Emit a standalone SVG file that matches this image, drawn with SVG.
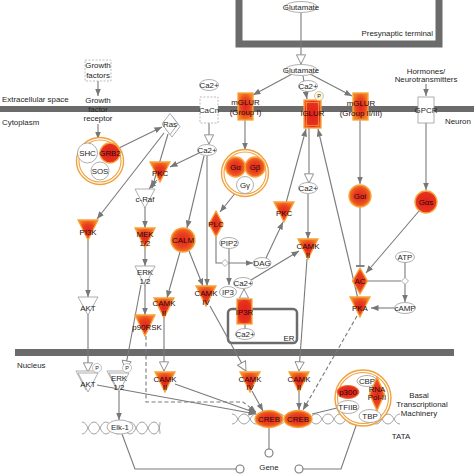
<svg xmlns="http://www.w3.org/2000/svg" width="474" height="474" viewBox="0 0 474 474">
<style>
text{font-family:"Liberation Sans",Arial,sans-serif;font-size:7.9px;fill:#262626;text-anchor:middle}
.l{text-anchor:start}
.e{text-anchor:end}
.k{fill:#2a0a0a}
.c{stroke:#7a7a7a;stroke-width:1.1;fill:none}
.d{stroke-dasharray:4 2.5}
.w{fill:#fff;stroke:#9a9a9a;stroke-width:0.8}
.wd{fill:#fff;stroke:#aaa;stroke-width:0.8;stroke-dasharray:2 1.5}
.o{fill:url(#go);stroke:#f7a33c;stroke-width:1.3}
.r{fill:url(#gr);stroke:#f7a33c;stroke-width:1.3}
.ring{fill:#fff;stroke:#f2a03a;stroke-width:1.4}
.ring2{fill:none;stroke:#f2a03a;stroke-width:1.1}
.bar{fill:#6b6b6b}
.dna{fill:none;stroke:#9a9a9a;stroke-width:0.9}
.sm{font-size:5.5px}
</style>
<defs>
<radialGradient id="go" cx="50%" cy="50%" r="55%"><stop offset="0" stop-color="#e3261c"/><stop offset="0.55" stop-color="#ea421e"/><stop offset="1" stop-color="#f58220"/></radialGradient>
<radialGradient id="gr" cx="50%" cy="50%" r="55%"><stop offset="0" stop-color="#e01f1b"/><stop offset="0.8" stop-color="#e6331d"/><stop offset="1" stop-color="#ef5a20"/></radialGradient>
<marker id="a" viewBox="0 0 10 8" refX="10" refY="4" markerWidth="7.5" markerHeight="6" orient="auto" markerUnits="userSpaceOnUse"><path d="M0,0 L10,4 L0,8 z" fill="#777"/></marker>
<marker id="v" viewBox="-1 -1 12 12" refX="10" refY="5" markerWidth="11" markerHeight="11" orient="auto" markerUnits="userSpaceOnUse"><path d="M0,0 L10,5 L0,10 z" fill="#fff" stroke="#888" stroke-width="1"/></marker>
<marker id="t" viewBox="0 0 2 10" refX="1" refY="5" markerWidth="2" markerHeight="9" orient="auto" markerUnits="userSpaceOnUse"><path d="M1,0 V10" stroke="#777" stroke-width="2"/></marker>
</defs>
<rect width="474" height="474" fill="#fff"/>

<g id="compartments">
<rect x="239" y="-20" width="200" height="64" fill="none" stroke="#6b6b6b" stroke-width="7"/>
<text class="e" x="433" y="35.5">Presynaptic terminal</text>
<rect class="bar" x="0" y="106" width="474" height="6"/>
<text class="l" x="2" y="102">Extracellular space</text>
<text class="l" x="2" y="125">Cytoplasm</text>
<text class="l" x="445" y="123.5">Neuron</text>
<rect class="bar" x="15" y="349" width="439" height="7"/>
<text class="l" x="17" y="368">Nucleus</text>
<rect x="228" y="309" width="69" height="34" rx="4" fill="none" stroke="#6b6b6b" stroke-width="2.5"/>
<text x="289" y="341">ER</text>
</g>

<g id="connectors">
<path class="c" d="M301,13 V64" marker-end="url(#v)"/>
<path class="c" d="M98,81 V96" marker-end="url(#a)"/>
<path class="c" d="M98,124 V139" marker-end="url(#a)"/>
<path class="c" d="M119,148 L162,127" marker-end="url(#a)"/>
<path class="c" d="M168,134 L152,188" marker-end="url(#a)"/>
<path class="c" d="M164,133 L97,219" marker-end="url(#a)"/>
<path class="c" d="M157,180 L149,189" marker-end="url(#a)"/>
<path class="c" d="M199,153 L170,167" marker-end="url(#a)"/>
<path class="c" d="M204,156 L187,228" marker-end="url(#a)"/>
<path class="c" d="M207,156 V286" marker-end="url(#a)"/>
<path class="c" d="M209,123 V144" marker-end="url(#v)"/>
<path class="c" d="M245,120 V150" marker-end="url(#a)"/>
<path class="c" d="M237,191 L220,212" marker-end="url(#a)"/>
<path class="c" d="M216,237 V263 H253" marker-end="url(#a)"/>
<path class="c" d="M229,248 V285" marker-end="url(#a)"/>
<path class="c" d="M266,258 L283,222" marker-end="url(#a)"/>
<path class="c" d="M251,280 L299,251" marker-end="url(#a)"/>
<path class="c" d="M244,299 V289" marker-end="url(#v)"/>
<path class="c" d="M245,324 V329"/>
<path class="c" d="M292,74 L253,95" marker-end="url(#a)"/>
<path class="c" d="M310,74 L352,96" marker-end="url(#a)"/>
<path class="c" d="M303,76 L307,99" marker-end="url(#a)"/>
<path class="c" d="M309,128 V183" marker-end="url(#v)"/>
<path class="c" d="M308,194 V239" marker-end="url(#a)"/>
<path class="c" d="M286,203 L306,129" marker-end="url(#a)"/>
<path class="c" d="M358,299 L318,129" marker-end="url(#a)"/>
<path class="c" d="M360,120 V184" marker-end="url(#a)"/>
<path class="c" d="M360,207 V266" marker-end="url(#t)"/>
<path class="c" d="M426,84 V96" marker-end="url(#a)"/>
<path class="c" d="M426,123 V190" marker-end="url(#a)"/>
<path class="c" d="M419,211 L366,273" marker-end="url(#a)"/>
<path class="c" d="M367,281 H401"/>
<path class="c" d="M405,262 V302" marker-end="url(#a)"/>
<path class="c" d="M395,308 H371" marker-end="url(#a)"/>
<path class="c" d="M88,240 V297" marker-end="url(#a)"/>
<path class="c" d="M145,207 V228" marker-end="url(#a)"/>
<path class="c" d="M145,247 V266" marker-end="url(#a)"/>
<path class="c" d="M145,285 V315" marker-end="url(#a)"/>
<path class="c" d="M141,285 L125,370" marker-end="url(#v)"/>
<path class="c" d="M88,314 V372" marker-end="url(#v)"/>
<path class="c" d="M180,252 L167,298" marker-end="url(#a)"/>
<path class="c" d="M189,251 L203,286" marker-end="url(#a)"/>
<path class="c" d="M164,317 V371" marker-end="url(#v)"/>
<path class="c" d="M210,306 L246,371" marker-end="url(#v)"/>
<path class="c" d="M307,259 L299,371" marker-end="url(#v)"/>
<path class="c d" d="M146,336 V402 H243 L256,412" marker-end="url(#a)"/>
<path class="c" d="M97,385 L256,414" marker-end="url(#a)"/>
<path class="c" d="M175,384 L256,413" marker-end="url(#a)"/>
<path class="c" d="M252,391 L263,411" marker-end="url(#a)"/>
<path class="c" d="M299,391 V410" marker-end="url(#a)"/>
<path class="c d" d="M357,316 L303,410" marker-end="url(#a)"/>
<path class="c" d="M119,391 V420" marker-end="url(#a)"/>
<path class="c" d="M269,428 V449"/>
<path class="c" d="M122,434 L135,469 H236"/>
<path class="c" d="M303,469 H341 L357,423"/>
<path class="c" d="M312,414 L337,408"/>
<path d="M225,259.5 L228.5,263 L225,266.5 L221.5,263 z" class="w"/>
<path d="M405,277.5 L408.5,281 L405,284.5 L401.5,281 z" class="w"/>
<circle cx="269" cy="453" r="4" fill="#fff" stroke="#777" stroke-width="1.1"/>
<circle cx="240" cy="469" r="4" fill="#fff" stroke="#777" stroke-width="1.1"/>
<circle cx="299" cy="469" r="4" fill="#fff" stroke="#777" stroke-width="1.1"/>
</g>

<g id="dna">
<path class="dna" d="M232,414 C238,414 238,424 244,424 S250,414 256,414 S262,424 268,424 S274,414 280,414 S286,424 292,424 S298,414 304,414 S310,424 316,424 S322,414 328,414 S334,424 340,424 S346,414 352,414 S358,424 364,424 S370,414 376,414 S382,424 388,424 S394,414 400,414"/>
<path class="dna" d="M232,424 C238,424 238,414 244,414 S250,424 256,424 S262,414 268,414 S274,424 280,424 S286,414 292,414 S298,424 304,424 S310,414 316,414 S322,424 328,424 S334,414 340,414 S346,424 352,424 S358,414 364,414 S370,424 376,424 S382,414 388,414 S394,424 400,424"/>
<path class="dna" d="M82,422 C88,422 88,434 94,434 S100,422 106,422 S112,434 118,434 S124,422 130,422 S136,434 142,434 S148,422 154,422 S160,434 160,434"/>
<path class="dna" d="M82,434 C88,434 88,422 94,422 S100,434 106,434 S112,422 118,422 S124,434 130,434 S136,422 142,422 S148,434 154,434 S160,422 160,422"/>
</g>

<g id="n-glutamate-pre"><ellipse class="w" cx="301" cy="7" rx="16" ry="5.5"/><text x="301" y="9.7">Glutamate</text></g>
<g id="n-glutamate"><ellipse class="w" cx="301" cy="70" rx="16" ry="5.5"/><text x="301" y="72.7">Glutamate</text></g>
<g id="n-growth-factors"><rect class="wd" x="85" y="60" width="26" height="21"/><text x="98" y="68">Growth</text><text x="98" y="77.5">factors</text></g>
<g id="n-gf-receptor"><text x="98" y="103">Growth</text><text x="98" y="112">factor</text><text x="98" y="121">receptor</text></g>
<g id="n-hormones"><text x="426" y="73.5">Hormones/</text><text x="426" y="82">Neurotransmitters</text></g>
<g id="n-ca-top"><ellipse class="w" cx="209" cy="85" rx="9.5" ry="5.5"/><text x="209" y="87.7">Ca2+</text></g>
<g id="n-cacn"><rect class="wd" x="200" y="97" width="18" height="26"/><text x="209" y="113">CaCn</text></g>
<g id="n-mglur1"><rect class="o" x="238" y="93" width="15" height="27"/><text class="k" x="245.5" y="105">mGLUR</text><text class="k" x="245.5" y="115">(Group I)</text></g>
<g id="n-ca-iglur"><ellipse class="w" cx="308" cy="86" rx="9.5" ry="5.5"/><text x="308" y="88.7">Ca2+</text></g>
<g id="n-iglur"><rect class="r" x="304" y="100" width="17" height="28"/><rect x="306.5" y="102.5" width="12" height="23" fill="none" stroke="#f7b04a" stroke-width="0.6"/><text class="k" x="312.5" y="116">iGLUR</text>
<circle cx="319" cy="96" r="4.5" fill="#fff6dc" stroke="#c8b080" stroke-width="0.7"/><text class="sm" x="319" y="98">P</text></g>
<g id="n-mglur23"><rect class="o" x="353" y="93" width="15" height="27"/><text class="k" x="361" y="106">mGLUR</text><text class="k" x="361" y="116">(Group II/III)</text></g>
<g id="n-gpcr"><rect class="w" x="418" y="97" width="16" height="26"/><text x="426" y="113">GPCR</text></g>

<g id="n-shc-grb2-sos"><circle class="ring" cx="100" cy="161" r="23.5"/><circle class="ring2" cx="100" cy="161" r="21"/>
<circle class="w" cx="87.5" cy="153" r="10"/><circle class="r" cx="110" cy="153" r="10"/><circle class="w" cx="100" cy="171" r="9"/>
<text x="87.5" y="155.7">SHC</text><text class="k" x="110" y="155.7">GRB2</text><text x="100" y="173.7">SOS</text></g>
<g id="n-ras"><path d="M172,116 L180,126.5 L172,137 L164,126.5 z" class="w"/><path d="M170,113.5 L178,124 L170,134.5 L162,124 z" class="w"/><text x="170" y="127">Ras</text></g>
<g id="n-ca-mid"><ellipse class="w" cx="207" cy="150" rx="9.5" ry="5.5"/><text x="207" y="152.7">Ca2+</text></g>
<g id="n-pkc1"><polygon class="o" points="150,162 170,162 160,182"/><text class="k" x="160" y="175.5">PKC</text></g>
<g id="n-craf"><polygon class="w" points="135,189 155,189 145,208"/><text x="145" y="201.5">c-Raf</text></g>
<g id="n-mek"><polygon class="o" points="135,228 155,228 145,248"/><text class="k" x="145" y="236.5">MEK</text><text class="k" x="145" y="245.5">1/2</text></g>
<g id="n-erk-c"><polygon class="w" points="135,266 155,266 145,286"/><text x="145" y="274.5">ERK</text><text x="145" y="283.5">1/2</text></g>
<g id="n-pi3k"><polygon class="o" points="78,220 98,220 88,240"/><text class="k" x="88" y="235">PI3K</text></g>
<g id="n-akt-c"><polygon class="w" points="78,297 98,297 88,315"/><text x="88" y="311">AKT</text></g>
<g id="n-g-complex"><circle class="ring" cx="245" cy="173" r="23.5"/><circle class="ring2" cx="245" cy="173" r="21"/>
<circle class="o" cx="235.5" cy="167" r="10"/><circle class="o" cx="255" cy="167" r="10"/><circle class="w" cx="245" cy="185" r="8.5"/>
<text class="k" x="235.5" y="169.7">Gα</text><text class="k" x="255" y="169.7">Gβ</text><text x="245" y="187.7">Gγ</text></g>
<g id="n-calm"><circle class="o" cx="183" cy="240" r="12"/><text class="k" x="183" y="242.7">CALM</text></g>
<g id="n-plc"><path class="o" d="M216,211 L223,224 L216,237 L209,224 z"/><text class="k" x="216" y="226.7">PLC</text></g>
<g id="n-pip2"><ellipse class="w" cx="229" cy="243" rx="9.5" ry="5.5"/><text x="229" y="245.7">PIP2</text></g>
<g id="n-dag"><ellipse class="w" cx="262" cy="263" rx="9" ry="5.5"/><text x="262" y="265.7">DAG</text></g>
<g id="n-ip3"><ellipse class="w" cx="228" cy="292" rx="8.5" ry="5.5"/><text x="228" y="294.7">IP3</text></g>
<g id="n-pkc2"><polygon class="o" points="274,202 294,202 284,222"/><text class="k" x="284" y="216">PKC</text></g>
<g id="n-ca-right"><ellipse class="w" cx="308" cy="188" rx="9.5" ry="5.5"/><text x="308" y="190.7">Ca2+</text></g>
<g id="n-camk2-c"><polygon class="o" points="298,239 318,239 308,259"/><text class="k" x="308" y="249">CAMK</text><text class="k" x="308" y="257.5">II</text></g>
<g id="n-ca-er-top"><ellipse class="w" cx="243" cy="283" rx="9.5" ry="5.5"/><text x="243" y="285.7">Ca2+</text></g>
<g id="n-ip3r"><rect class="r" x="237" y="299" width="15" height="25"/><text class="k" x="244.5" y="314.5">IP3R</text></g>
<g id="n-ca-er"><ellipse class="w" cx="245" cy="334" rx="9.5" ry="5.5"/><text x="245" y="336.7">Ca2+</text></g>
<g id="n-camk2-l"><polygon class="o" points="154,298 174,298 164,318"/><text class="k" x="164" y="306">CAMK</text><text class="k" x="164" y="315.5">II</text></g>
<g id="n-camk4-c"><polygon class="o" points="196,286 216,286 206,306"/><text class="k" x="206" y="295.5">CAMK</text><text class="k" x="206" y="305">IV</text></g>
<g id="n-p90rsk"><polygon class="o" points="135,315 155,315 145,336"/><text class="k" x="147" y="329.5">p90RSK</text></g>
<g id="n-gai"><circle class="o" cx="360" cy="196" r="11"/><text class="k" x="360" y="198.7">Gαi</text></g>
<g id="n-gas"><circle class="r" cx="426" cy="202" r="11"/><text class="k" x="426" y="204.7">Gαs</text></g>
<g id="n-ac"><path class="o" d="M360,268 L367.5,281 L360,294 L352.5,281 z"/><text class="k" x="360" y="283.7">AC</text></g>
<g id="n-atp"><ellipse class="w" cx="405" cy="257" rx="9.5" ry="5.5"/><text x="405" y="259.7">ATP</text></g>
<g id="n-camp"><ellipse class="w" cx="405" cy="308" rx="10.5" ry="5.5"/><text x="405" y="310.7">cAMP</text></g>
<g id="n-pka"><polygon class="o" points="350,297 370,297 360,317"/><text class="k" x="360" y="311">PKA</text></g>

<g id="n-akt-n"><polygon class="w" points="76,371 96,371 86,390"/><polygon class="w" points="78,373 98,373 88,392"/><text x="88" y="386.5">AKT</text>
<circle cx="97" cy="368" r="4.5" fill="#fff" stroke="#aaa" stroke-width="0.7"/><text class="sm" x="97" y="370">P</text></g>
<g id="n-erk-n"><polygon class="w" points="107,371 127,371 117,390"/><polygon class="w" points="109,373 129,373 119,392"/><text x="119" y="380.5">ERK</text><text x="119" y="389.5">1/2</text>
<circle cx="127" cy="368" r="4.5" fill="#fff" stroke="#aaa" stroke-width="0.7"/><text class="sm" x="127" y="370">P</text></g>
<g id="n-camk2-n1"><polygon class="o" points="155,372 175,372 165,392"/><text class="k" x="165" y="381.5">CAMK</text><text class="k" x="165" y="390">II</text></g>
<g id="n-camk4-n"><polygon class="o" points="240,372 260,372 250,392"/><text class="k" x="250" y="381.5">CAMK</text><text class="k" x="250" y="390">IV</text></g>
<g id="n-camk2-n2"><polygon class="o" points="289,372 309,372 299,392"/><text class="k" x="299" y="381.5">CAMK</text><text class="k" x="299" y="390">II</text></g>
<g id="n-elk1"><ellipse class="w" cx="120" cy="427" rx="13" ry="7"/><text x="120" y="429.7">Elk-1</text></g>
<g id="n-creb1"><ellipse class="o" cx="269" cy="419" rx="14" ry="8.5"/><text class="k" x="269" y="421.7">CREB</text></g>
<g id="n-creb2"><ellipse class="o" cx="298" cy="419" rx="14" ry="8.5"/><text class="k" x="298" y="421.7">CREB</text></g>
<g id="n-gene"><text x="269" y="469.5">Gene</text></g>
<g id="n-basal"><circle class="ring" cx="363" cy="398" r="28"/><circle class="ring2" cx="363" cy="398" r="25.5"/>
<ellipse class="w" cx="367" cy="381" rx="10" ry="5.5"/><text x="367" y="383.7">CBP</text>
<ellipse cx="348" cy="392" rx="11" ry="6.5" fill="url(#gr)" stroke="#f26a30" stroke-width="1"/><text class="k" x="348" y="394.7">p300</text>
<path class="o" d="M377,377 L384.5,394 L377,411 L369.5,394 z"/><text class="k" x="377" y="391.5">RNA</text><text class="k" x="377" y="400">Pol-II</text>
<ellipse class="w" cx="348" cy="407" rx="11" ry="6.5"/><text x="348" y="409.7">TFIIB</text>
<ellipse class="w" cx="370" cy="416" rx="11" ry="6.5"/><text x="370" y="418.7">TBP</text></g>
<g id="n-basal-label"><text x="419" y="398">Basal</text><text x="422" y="407">Transcriptional</text><text x="419" y="416">Machinery</text></g>
<g id="n-tata"><text x="401" y="439">TATA</text></g>
</svg>
